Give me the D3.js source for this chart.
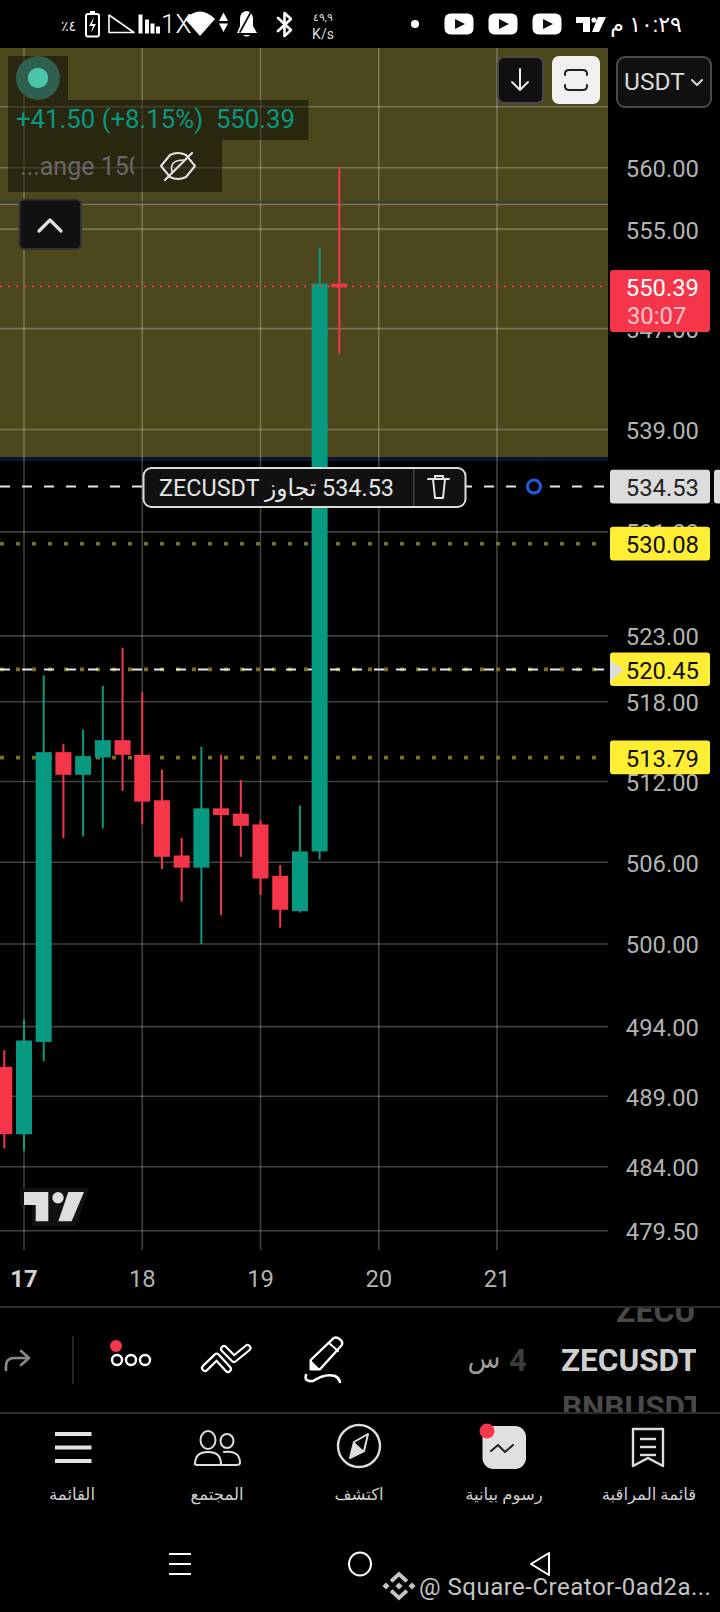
<!DOCTYPE html>
<html><head><meta charset="utf-8">
<style>html,body{margin:0;padding:0;background:#000;overflow:hidden}svg{display:block}text{font-family:Roboto,"DejaVu Sans",sans-serif}</style>
<script src="https://cdn.jsdelivr.net/npm/d3@7/dist/d3.min.js"></script>
</head><body><svg id="c" width="720" height="1612"></svg>
<script>
const candleIndex = [-1,0,1,2,3,4,5,6,7,8,9,10,11,12,13,14,15,16];
const opens  = [491.1,486.3,492.9,514.2,512.5,513.8,515.1,514.0,510.6,506.5,505.6,510.0,509.6,508.8,505.0,502.4,506.8,550.6];
const highs  = [492.3,494.5,520.0,514.8,515.9,519.2,522.1,518.7,512.9,507.8,514.6,514.0,512.1,509.1,505.8,510.2,553.5,560.0];
const lows   = [485.3,485.1,491.5,507.8,507.9,508.5,511.3,508.8,505.5,503.1,500.0,502.1,506.4,503.6,501.2,502.3,506.2,545.0];
const closes = [486.3,493.0,514.2,512.5,513.9,515.1,514.0,510.5,506.4,505.6,510.0,509.5,508.7,504.8,502.5,506.8,550.6,550.39];
const priceTicks = [560,555,547,539,531,523,518,512,506,500,494,489,484,479.5];
const hiddenGrid = [565,557];
const dayTicks = [17,18,19,20,21];
const lastPrice = 550.39, alertPrice = 534.53, levelPrices = [530.08,520.45,513.79];
const changeText = "+41.50 (+8.15%)  550.39";
const navLabels = ["القائمة","المجتمع","اكتشف","رسوم بيانية","قائمة المراقبة"];
const GREEN="#089981", RED="#f5364a", YEL="#ffee33";

const svg = d3.select("#c");
const W = 608, TOP = 48, BOT = 1250;
const y = d3.scaleLog().domain([479.5,560]).range([1230.7,167.7]);
const x = d3.scaleLinear().domain([17,21]).range([24,497]);
const fmt = d3.format(".2f");
const barX = i => x(17+i/6);
const R = 'Roboto,"DejaVu Sans",sans-serif';
const AXF = 23.8;
function T(g,s,px,py,size,fill,anchor,weight,fam){return g.append("text").attr("x",px).attr("y",py).attr("dy",".355em").attr("font-size",size).attr("fill",fill).attr("text-anchor",anchor||"start").attr("font-weight",weight||400).attr("font-family",fam||R).text(s);}
function P(g,d,stroke,w,fill){return g.append("path").attr("d",d).attr("fill",fill||"none").attr("stroke",stroke||"none").attr("stroke-width",w||0).attr("stroke-linecap","round").attr("stroke-linejoin","round");}
function RR(g,a,b,c,d,rx,fill,stroke,sw){return g.append("rect").attr("x",a).attr("y",b).attr("width",c-a).attr("height",d-b).attr("rx",rx).attr("fill",fill).attr("stroke",stroke||"none").attr("stroke-width",sw||0);}

const defs = svg.append("defs");
defs.append("clipPath").attr("id","cc").append("rect").attr("x",0).attr("y",TOP).attr("width",W).attr("height",BOT-TOP+60);
defs.append("clipPath").attr("id","c1").append("rect").attr("x",0).attr("y",140).attr("width",134).attr("height",52);
defs.append("clipPath").attr("id","c2").append("rect").attr("x",540).attr("y",1308).attr("width",156).attr("height",104);

// band
svg.append("rect").attr("x",0).attr("y",TOP).attr("width",W).attr("height",409).attr("fill","#4d471e");
svg.append("rect").attr("x",0).attr("y",457).attr("width",W).attr("height",4).attr("fill","#0c1530");

// grid
const grid = svg.append("g").attr("stroke","rgba(255,255,255,.25)").attr("stroke-width",1.6);
grid.selectAll(".h").data(priceTicks.concat(hiddenGrid)).join("line").attr("x1",0).attr("x2",W).attr("y1",d=>y(d)).attr("y2",d=>y(d));
grid.selectAll(".v").data(dayTicks).join("line").attr("x1",d=>x(d)).attr("x2",d=>x(d)).attr("y1",TOP).attr("y2",BOT);
svg.append("line").attr("x1",0).attr("x2",W).attr("y1",202).attr("y2",202).attr("stroke","#3d4232").attr("stroke-width",2.6);

// level lines
const chart = svg.append("g").attr("clip-path","url(#cc)");
chart.selectAll(".lvl").data(levelPrices).join("line").attr("x1",0).attr("x2",598).attr("y1",d=>y(d)).attr("y2",d=>y(d))
 .attr("stroke","#7d7220").attr("stroke-width",3.6).attr("stroke-dasharray","4 12");
chart.selectAll(".dash").data([alertPrice,levelPrices[1]]).join("line").attr("x1",0).attr("x2",W).attr("y1",d=>y(d)).attr("y2",d=>y(d))
 .attr("stroke","#e6e6e6").attr("stroke-width",2).attr("stroke-dasharray","10 12");

// candles
const rows = candleIndex.map((i,k)=>({i,o:opens[k],h:highs[k],l:lows[k],c:closes[k]}));
const col = d=>d.c>=d.o?GREEN:RED;
chart.selectAll(".w").data(rows).join("rect").attr("x",d=>barX(d.i)-1).attr("width",2).attr("y",d=>y(d.h)).attr("height",d=>y(d.l)-y(d.h)).attr("fill",col);
chart.selectAll(".b").data(rows).join("rect").attr("x",d=>barX(d.i)-8).attr("width",16)
 .attr("y",d=>y(Math.max(d.o,d.c))).attr("height",d=>Math.max(3.7,y(Math.min(d.o,d.c))-y(Math.max(d.o,d.c)))).attr("fill",col);

// last-price dotted
chart.append("line").attr("x1",0).attr("x2",602).attr("y1",y(lastPrice)).attr("y2",y(lastPrice)).attr("stroke",RED).attr("stroke-width",2).attr("stroke-dasharray","2 6");

// TV logo
const logo = svg.append("g");
P(logo,"M20 1188H89L76 1226H32V1205H20Z",null,0,"#111");
P(logo,"M24 1192H48.3V1221.3H35.7V1205H24Z",null,0,"#dedede");
logo.append("circle").attr("cx",58).attr("cy",1197.7).attr("r",5.7).attr("fill","#dedede");
P(logo,"M68.3 1192H84L71.7 1221.3H58.3Z",null,0,"#dedede");

// price axis
svg.append("g").selectAll("text").data(priceTicks).join("text").attr("x",699).attr("y",d=>y(d)+1).attr("dy",".355em").attr("text-anchor","end")
 .attr("font-size",AXF).attr("fill","#b2b2b2").text(fmt);
// day axis
svg.append("g").selectAll("text").data(dayTicks).join("text").attr("x",d=>x(d)).attr("y",1279).attr("dy",".355em").attr("text-anchor","middle")
 .attr("font-size",AXF).attr("fill",d=>d===17?"#d4d4d4":"#b2b2b2").attr("font-weight",d=>d===17?700:400).text(d=>d);

// chips
const chipAlert = y(alertPrice);
RR(svg,610,chipAlert-16.7,710,chipAlert+17,3,"#dcdcdc");
RR(svg,714,chipAlert-16.7,722,chipAlert+17,3,"#dcdcdc");
T(svg,fmt(alertPrice),699,chipAlert+1,AXF,"#222","end");
svg.selectAll(".chip").data(levelPrices).join("rect").attr("x",610).attr("width",100).attr("y",d=>y(d)-17).attr("height",33.7).attr("rx",3).attr("fill",YEL);
svg.selectAll(".chipt").data(levelPrices).join("text").attr("x",699).attr("y",d=>y(d)+1).attr("dy",".355em").attr("text-anchor","end").attr("font-size",AXF).attr("fill","#111").text(fmt);
P(svg,"M610 660L623.5 670L610 681Z",null,0,"#dcdcdc");
RR(svg,610,270,710,332,3,RED);
T(svg,fmt(lastPrice),699,287.5,AXF,"#fff","end");
T(svg,"30:07",627,315.5,AXF,"#fbc4ca");

// legend panels
RR(svg,8,56,68,100,0,"rgba(0,0,0,.45)");
RR(svg,8,100,308.5,140,0,"rgba(0,0,0,.45)");
RR(svg,8,140,222,192,0,"rgba(0,0,0,.45)");
svg.append("circle").attr("cx",38).attr("cy",78).attr("r",22).attr("fill","#2f5f4e");
svg.append("circle").attr("cx",38).attr("cy",78).attr("r",10.2).attr("fill","#4cc3ab");
T(svg,changeText,16,119,25.75,GREEN).style("white-space","pre");
T(svg.append("g").attr("clip-path","url(#c1)"),"...ange 150",20,166,25,"#686868");
const eye = svg.append("g");
P(eye,"M161 166L170 155Q178 151 186 155L195 166L186 177Q178 181 170 177Z","#e4e4e4",2);
P(eye,"M165 180L192 153","#e4e4e4",2.2);
P(eye,"M172 172Q169 160 184 160","#e4e4e4",1.6);

// buttons
RR(svg,19.5,199.5,81,249,5,"#111","#333",2);
P(svg,"M39 231L50 220L61 231","#e0e0e0",3.2);
RR(svg,498,57,543,103,6,"#101010","#484848",2);
P(svg,"M520 69V90M512 82L520 90L528 82","#eee",2);
RR(svg,552,56,600,104,7,"#f0f0f0");
P(svg,"M565 75V74Q565 70 569 70H583Q587 70 587 74V75M565 85V86Q565 90 569 90H583Q587 90 587 86V85","#222",2);
RR(svg,617,57,711,107,8,"#101010","#4a4a4a",2);
T(svg,"USDT",624,81.5,24.5,"#d8d8d8");
P(svg,"M692 80L697 85L702 80","#d8d8d8",2);

// alert pill
RR(svg,143.5,468,465.5,507,8,"#111","#dcdcdc",2);
T(svg,"ZECUSDT تجاوز \u200E534.53",159,488,23.4,"#e6e6e6");
svg.append("line").attr("x1",413.7).attr("x2",413.7).attr("y1",469).attr("y2",506).attr("stroke","#444").attr("stroke-width",1.5);
P(svg,"M428 479H449M433 479L435 498H443L445 479M435 479V476H443V479","#e6e6e6",2);
svg.append("circle").attr("cx",534).attr("cy",y(alertPrice)).attr("r",6.5).attr("fill","#000").attr("stroke","#2159e0").attr("stroke-width",3);

// status bar
const st = svg.append("g");
T(st,"٪٤",68.5,26,14,"#eee","middle",400,'"DejaVu Sans"');
RR(st,86,14,99,36.5,2,"none","#fff",2); RR(st,90,11,95,14,0,"#fff");
P(st,"M94 17L89 26H93L91 33L96 24H92Z",null,0,"#fff");
P(st,"M109 32.5H134L109 15Z","#fff",1.6);
[[138.5,19],[145,14],[150.5,10],[156,7]].forEach(b=>st.append("rect").attr("x",b[0]).attr("y",33.5-b[1]).attr("width",4).attr("height",b[1]).attr("fill","#fff"));
T(st,"1X",161,23.5,26,"#fff","start",300);
P(st,"M185 19Q200 4 215 19L200 36Z",null,0,"#fff");
P(st,"M223.5 12.5L228 21H219ZM223.5 32L228 23.5H219Z",null,0,"#fff");
P(st,"M237 33H257L253 26V18Q252 11 246 11Q240 12 240 19V26ZM243 35H250Q247 38 243 35Z",null,0,"#fff");
P(st,"M252 10L240 32","#000",1.6);
P(st,"M278 18L291 30L284.5 36V13L291 19L278 31","#fff",2.6);
T(st,"٤٩,٩",323,17,11,"#ddd","middle",400,'"DejaVu Sans"');
T(st,"K/s",323,34,14,"#ddd","middle",400);
st.append("circle").attr("cx",415).attr("cy",24).attr("r",4).attr("fill","#fff");
[459,503,547].forEach(cx=>{RR(st,cx-14.5,13.5,cx+14.5,34.5,6,"#fff");P(st,`M${cx-4} 19L${cx+6} 24L${cx-4} 29Z`,null,0,"#111");});
P(st,"M576 17H590V32H583V23H576Z",null,0,"#fff");
st.append("circle").attr("cx",594).attr("cy",20).attr("r",2.6).attr("fill","#fff");
P(st,"M598 17H606L599 32H592Z",null,0,"#fff");
T(st,"١٠:٢٩ م",646,24,22,"#fff","middle",400,'"DejaVu Sans"').attr("direction","rtl").style("unicode-bidi","plaintext");

// separators
svg.append("line").attr("x1",0).attr("x2",720).attr("y1",1307).attr("y2",1307).attr("stroke","#2c2c2c").attr("stroke-width",2);
svg.append("line").attr("x1",0).attr("x2",720).attr("y1",1413).attr("y2",1413).attr("stroke","#2c2c2c").attr("stroke-width",2);

// toolbar
P(svg,"M6 1370V1366Q6 1358 14 1358H28M21 1351L29 1358L21 1365","#8a8a8a",2.6);
svg.append("line").attr("x1",73).attr("x2",73).attr("y1",1336).attr("y2",1384).attr("stroke","#333").attr("stroke-width",1.5);
svg.selectAll(".o").data([117,131,145]).join("circle").attr("cx",d=>d).attr("cy",1360).attr("r",5).attr("fill","none").attr("stroke","#fff").attr("stroke-width",2.4);
svg.append("circle").attr("cx",116).attr("cy",1346).attr("r",6).attr("fill",RED);
const chev = "M205 1368L216.7 1356.7L228 1369M224 1349L234 1359L247.5 1348";
P(svg,chev,"#fff",8);
P(svg,chev,"#000",3.6);
P(svg,"M310.7 1360L333.3 1338.3Q337 1336 341.7 1341Q343 1344 341 1346L320 1369.3H310.7Z","#fff",2.4);
P(svg,"M310.7 1360L320 1369.3H310.7Z",null,0,"#fff");
P(svg,"M329 1343L338 1351","#fff",2);
P(svg,"M306 1375Q304 1382 313 1381Q325 1373 335 1376Q339 1378 340 1382","#fff",2.6);
T(svg,"4",518,1360,31,"#3c3c3c","middle",700);
T(svg,"س",484,1358,27,"#9a9a9a","middle",400,'"DejaVu Sans"');
const list = svg.append("g").attr("clip-path","url(#c2)");
T(list,"ZECU",616,1311,32,"#484848","start",700);
T(list,"ZECUSDT",561,1360,31.5,"#cfcfcf","start",700);
T(list,"BNBUSDT",562,1407,31.5,"#484848","start",700);

// nav
const nav = svg.append("g");
[1434,1447.5,1461].forEach(v=>nav.append("rect").attr("x",55).attr("y",v-2).attr("width",36.5).attr("height",4).attr("fill","#e2e2e2"));
nav.append("ellipse").attr("cx",208).attr("cy",1440).attr("rx",7.5).attr("ry",9).attr("fill","none").attr("stroke","#ddd").attr("stroke-width",2);
nav.append("ellipse").attr("cx",227).attr("cy",1441).attr("rx",6.5).attr("ry",7).attr("fill","none").attr("stroke","#ddd").attr("stroke-width",2);
P(nav,"M195 1464Q195 1452 208 1452Q221 1452 221 1464Q221 1465 218 1465H198Q195 1465 195 1464Z","#ddd",2);
P(nav,"M224 1452Q240 1450 240 1463Q240 1465 236 1465H221","#ddd",2);
nav.append("circle").attr("cx",359).attr("cy",1446).attr("r",21).attr("fill","none").attr("stroke","#ddd").attr("stroke-width",2.4);
P(nav,"M368 1434L364 1451L350 1458L354 1442Z","#ddd",2);
P(nav,"M354 1442L364 1451L350 1458Z",null,0,"#ddd");
RR(nav,482.5,1426,526,1469,11,"#e0e0e0");
P(nav,"M491 1451L498 1445L505 1452L513 1445","#222",2);
nav.append("circle").attr("cx",487).attr("cy",1431).attr("r",7.5).attr("fill",RED);
P(nav,"M633 1429H663V1466L648 1458L633 1466Z","#ddd",2.4);
[1439,1447,1455].forEach(v=>nav.append("line").attr("x1",640).attr("x2",656).attr("y1",v).attr("y2",v).attr("stroke","#ddd").attr("stroke-width",2.4));
nav.selectAll("text").data(navLabels).join("text").attr("x",(d,k)=>[72,217,359,504,649][k]).attr("y",1494).attr("dy",".355em").attr("text-anchor","middle")
 .attr("font-size",16.5).attr("font-family",'"DejaVu Sans",sans-serif').attr("fill","#cfcfcf").text(d=>d);

// system nav
[1554,1564,1574].forEach(v=>svg.append("line").attr("x1",169).attr("x2",191).attr("y1",v).attr("y2",v).attr("stroke","#fff").attr("stroke-width",2));
svg.append("ellipse").attr("cx",360).attr("cy",1564).attr("rx",11).attr("ry",11.5).attr("fill","none").attr("stroke","#fff").attr("stroke-width",2);
P(svg,"M549 1553L531 1564L549 1575Z","#fff",2);

// watermark
const wm = svg.append("g");
const WC = "#c4c4c4";
[[386,1586],[412,1586],[399,1586]].forEach(p=>P(wm,`M${p[0]} ${p[1]-3.6}L${p[0]+3.6} ${p[1]}L${p[0]} ${p[1]+3.6}L${p[0]-3.6} ${p[1]}Z`,null,0,WC));
P(wm,"M392.5 1580L399 1574L405.5 1580M392.5 1592L399 1598L405.5 1592",WC,3.8).attr("stroke-linecap","square").attr("stroke-linejoin","miter");
T(wm,"@ Square-Creator-0ad2a...",419,1586.5,24,WC,"start",400,'"Noto Sans",sans-serif').attr("letter-spacing",.5);
</script></body></html>
